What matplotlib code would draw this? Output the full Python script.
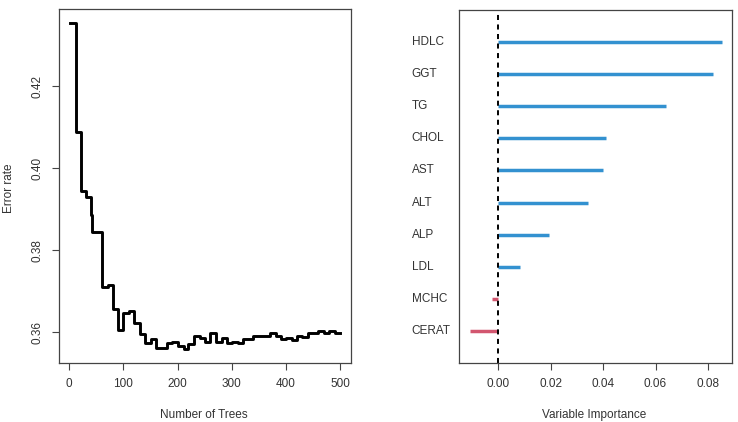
import numpy as np
import matplotlib.pyplot as plt

plt.rcParams['font.family'] = ['Liberation Sans', 'DejaVu Sans']

# OOB error rate (step change points)
trees = [1, 12, 13, 21, 22, 30, 40, 41, 61, 71, 80, 90, 100, 110, 120, 130, 140, 150, 160, 180,
         190, 200, 211, 220, 230, 241, 251, 260, 271, 281, 291, 301, 311, 321, 340, 370, 381, 390,
         400, 411, 420, 430, 441, 460, 470, 480, 491, 500]
err = [0.4356, 0.4220, 0.4088, 0.4015, 0.3945, 0.3931, 0.3885, 0.3844, 0.3710, 0.3715,
       0.3657, 0.3606, 0.3646, 0.3651, 0.3622, 0.3595, 0.3573, 0.3584, 0.3562, 0.3573,
       0.3576, 0.3567, 0.3559, 0.3572, 0.3590, 0.3585, 0.3577, 0.3598, 0.3577, 0.3585,
       0.3573, 0.3577, 0.3573, 0.3584, 0.3590, 0.3598, 0.3590, 0.3584, 0.3586, 0.3582,
       0.3592, 0.3589, 0.3597, 0.3602, 0.3599, 0.3603, 0.3598, 0.3598]

# variable importance (top to bottom)
variables = ['HDLC', 'GGT', 'TG', 'CHOL', 'AST', 'ALT', 'ALP', 'LDL', 'MCHC', 'CERAT']
importance = [0.0855, 0.0819, 0.0641, 0.0411, 0.0401, 0.0344, 0.0194, 0.0083, -0.0025, -0.0110]

edge = '#444444'
fs = 8.5

fig = plt.figure(figsize=(7.38, 4.22), dpi=100)

ax1 = fig.add_axes([59/738, 59/422, 292/738, 354/422])
ax1.plot(trees, err, drawstyle='steps-post', color='black', lw=2.1)
ax1.set_xlim(-19, 520)
ax1.set_ylim(0.3525, 0.4389)
ax1.set_xticks([0, 100, 200, 300, 400, 500])
ax1.set_yticks([0.36, 0.38, 0.40, 0.42])
ax1.set_yticklabels(['0.36', '0.38', '0.40', '0.42'], rotation=90, va='center')
ax1.tick_params(direction='out', length=5, width=0.8, color=edge, labelcolor='#333333',
                labelsize=fs, pad=6)
for s in ax1.spines.values():
    s.set_color(edge)
    s.set_linewidth(0.9)
fig.text(204/738, 1 - 415/422, 'Number of Trees', ha='center', va='center', fontsize=fs, color='#333333')
fig.text(9/738, 1 - 188/422, 'Error rate', ha='center', va='center', rotation=90, fontsize=fs, color='#333333')

ax2 = fig.add_axes([459.3/738, 59/422, 273/738, 353/422])
ypos = np.arange(len(variables), 0, -1)
cols = ['#3391D0' if v >= 0 else '#D2566F' for v in importance]
ax2.hlines(ypos, 0, importance, colors=cols, lw=2.5)
ax2.axvline(0, color='black', lw=1.4, ls=(0, (2.6, 2.3)))
ax2.set_xlim(-0.0149, 0.0893)
ax2.set_ylim(0, 11)
ax2.set_yticks([])
ax2.set_xticks([0, 0.02, 0.04, 0.06, 0.08])
ax2.set_xticklabels(['0.00', '0.02', '0.04', '0.06', '0.08'])
ax2.tick_params(direction='out', length=5, width=0.8, color=edge, labelcolor='#333333',
                labelsize=fs, pad=6)
for s in ax2.spines.values():
    s.set_color(edge)
    s.set_linewidth(0.9)
for y, name in zip(ypos, variables):
    ax2.text(-0.174, y, name, transform=ax2.get_yaxis_transform(), ha='left', va='center',
             fontsize=fs, color='#333333')
fig.text(594/738, 1 - 415/422, 'Variable Importance', ha='center', va='center', fontsize=fs, color='#333333')

fig.savefig('out.png', dpi=100)
